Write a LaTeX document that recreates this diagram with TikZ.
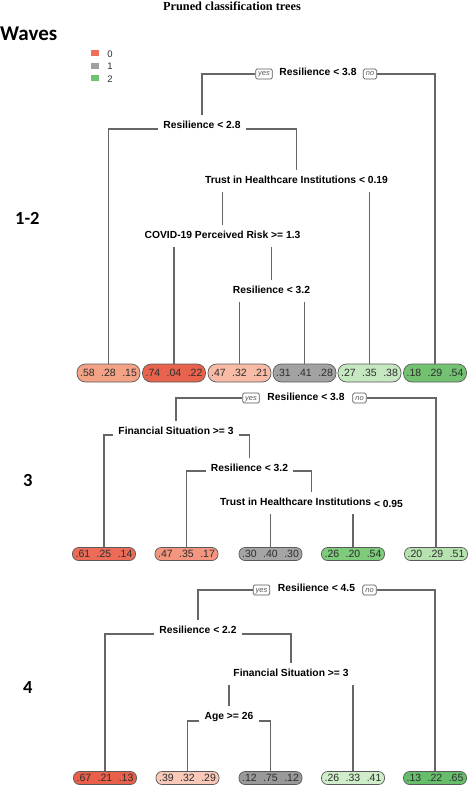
\documentclass[tikz,border=0pt]{standalone}
\usepackage{fontspec}
\setmainfont{Liberation Sans}
\newfontfamily\titlefont{Liberation Serif}
\newfontfamily\wavefont{Carlito}
\definecolor{linegray}{HTML}{666666}
\definecolor{boxgray}{HTML}{5A5A5A}
\definecolor{leafborder}{HTML}{5A5A5A}
\definecolor{leaftext}{HTML}{2E2E2E}
\definecolor{legA}{HTML}{EE6E5A}
\definecolor{legB}{HTML}{A0A0A0}
\definecolor{legC}{HTML}{72C072}
\definecolor{la}{HTML}{F4A286}
\definecolor{lb}{HTML}{E8634D}
\definecolor{lc}{HTML}{F7BBA6}
\definecolor{ld}{HTML}{A2A2A2}
\definecolor{le}{HTML}{C6E8C0}
\definecolor{lf}{HTML}{72C272}
\definecolor{ma}{HTML}{EC6C57}
\definecolor{mb}{HTML}{F49580}
\definecolor{mc}{HTML}{A5A5A5}
\definecolor{md}{HTML}{7DCB7B}
\definecolor{me}{HTML}{B6E2AF}
\definecolor{na}{HTML}{EA5F49}
\definecolor{nb}{HTML}{F9C8B8}
\definecolor{nc}{HTML}{999999}
\definecolor{nd}{HTML}{D0EDCA}
\definecolor{ne}{HTML}{66BE6A}
\newcommand{\lv}[3]{#1\hspace{6.5pt}#2\hspace{6.5pt}#3}
\tikzset{
  branch/.style={draw=linegray, line width=1.1pt},
  split/.style={font=\bfseries\fontsize{10.3}{12}\selectfont, text=black, inner xsep=5pt, inner ysep=6pt, text height=7.5pt, text depth=2pt},
  rootlabel/.style={font=\bfseries\fontsize{10.3}{12}\selectfont, text=black, inner sep=0pt},
  yn/.style={draw=boxgray, line width=0.7pt, rounded corners=1.5pt, font=\itshape\fontsize{7.5}{9}\selectfont, text=boxgray, inner xsep=2.5pt, inner ysep=0pt, text height=5.5pt, text depth=1.5pt, minimum height=10pt, fill=white},
  leafbase/.style={draw=leafborder, line width=0.7pt, minimum width=63pt, inner sep=0pt, font=\fontsize{10.5}{12}\selectfont, text=leaftext},
  leafA/.style={leafbase, minimum height=18pt, rounded corners=8.5pt, fill=#1},
  leafB/.style={leafbase, minimum height=13pt, rounded corners=6pt, fill=#1},
  legsq/.style={minimum width=8pt, minimum height=6pt, inner sep=0pt, fill=#1},
  legtx/.style={font=\fontsize{9.5}{11}\selectfont, text=leaftext, inner sep=0pt},
  side/.style={font=\wavefont\bfseries\fontsize{18.5}{22}\selectfont, inner sep=0pt, anchor=west}
}
\begin{document}
\begin{tikzpicture}[x=1pt,y=-1pt]
\useasboundingbox (0,0) rectangle (474,789);
% title and side labels
\node[font=\titlefont\bfseries\fontsize{12.3}{14}\selectfont, inner sep=0pt] (title) at (232,6) {Pruned classification trees};
\node[side, font=\wavefont\bfseries\fontsize{21}{24}\selectfont] (waves) at (0,34) {Waves};
\node[side] (w12) at (15,218) {1-2};
\node[side] (w3) at (23,480) {3};
\node[side] (w4) at (23,687) {4};
% legend
\node[legsq=legA] (sq0) at (94.5,53) {};
\node[legsq=legB] (sq1) at (94.5,66) {};
\node[legsq=legC] (sq2) at (94.5,78.5) {};
\node[legtx] (lt0) at (110,54) {0};
\node[legtx] (lt1) at (110,66.5) {1};
\node[legtx] (lt2) at (110,79) {2};

% ---------------- tree 1 ----------------
\node[rootlabel] (r1) at (318,72) {Resilience < 3.8};
\node[yn] (yes1) at (264,74) {yes};
\node[yn] (no1) at (370,74) {no};
\node[split] (r28) at (202,126) {Resilience < 2.8};
\node[split] (trust19) at (296.5,181) {Trust in Healthcare Institutions < 0.19};
\node[split] (covid) at (222.5,236) {COVID-19 Perceived Risk >= 1.3};
\node[split] (r32) at (271.5,291) {Resilience < 3.2};
\node[leafA=la] (a1) at (108.5,373) {\lv{.58}{.28}{.15}};
\node[leafA=lb] (a2) at (174,373) {\lv{.74}{.04}{.22}};
\node[leafA=lc] (a3) at (239.5,373) {\lv{.47}{.32}{.21}};
\node[leafA=ld] (a4) at (304.5,373) {\lv{.31}{.41}{.28}};
\node[leafA=le] (a5) at (369.5,373) {\lv{.27}{.35}{.38}};
\node[leafA=lf] (a6) at (435,373) {\lv{.18}{.29}{.54}};
\draw[branch] (yes1.west) -| (r28.north);
\draw[branch] (no1.east) -| (a6.north);
\draw[branch] ([yshift=-3pt]r28.west) -| (a1.north);
\draw[branch] ([yshift=-3pt]r28.east) -| (trust19.north);
\draw[branch] (trust19.south -| covid.north) -- (covid.north);
\draw[branch] (trust19.south -| a5.north) -- (a5.north);
\draw[branch] (covid.south -| a2.north) -- (a2.north);
\draw[branch] (covid.south -| r32.north) -- (r32.north);
\draw[branch] (r32.south -| a3.north) -- (a3.north);
\draw[branch] (r32.south -| a4.north) -- (a4.north);

% ---------------- tree 2 ----------------
\node[rootlabel] (r2) at (306,397) {Resilience < 3.8};
\node[yn] (yes2) at (251,398) {yes};
\node[yn] (no2) at (359.5,398) {no};
\node[split] (fs3) at (176,432) {Financial Situation >= 3};
\node[split] (r32b) at (249.5,469) {Resilience < 3.2};
\node[split] (trust95) at (311.5,503) {Trust in Healthcare Institutions \raisebox{-1.5pt}{< 0.95}};
\node[leafB=ma] (b1) at (104,554) {\lv{.61}{.25}{.14}};
\node[leafB=mb] (b2) at (186.5,554) {\lv{.47}{.35}{.17}};
\node[leafB=mc] (b3) at (270.5,554) {\lv{.30}{.40}{.30}};
\node[leafB=md] (b4) at (353,554) {\lv{.26}{.20}{.54}};
\node[leafB=me] (b5) at (436,554) {\lv{.20}{.29}{.51}};
\draw[branch] (yes2.west) -| (fs3.north);
\draw[branch] (no2.east) -| (b5.north);
\draw[branch] ([yshift=-3pt]fs3.west) -| (b1.north);
\draw[branch] ([yshift=-3pt]fs3.east) -| (r32b.north);
\draw[branch] ([yshift=-2pt]r32b.west) -| (b2.north);
\draw[branch] ([yshift=-2pt]r32b.east) -| (trust95.north);
\draw[branch] (trust95.south -| b3.north) -- (b3.north);
\draw[branch] (trust95.south -| b4.north) -- (b4.north);

% ---------------- tree 3 ----------------
\node[rootlabel] (r3) at (316.5,588) {Resilience < 4.5};
\node[yn] (yes3) at (261.5,590) {yes};
\node[yn] (no3) at (369.5,590) {no};
\node[split] (r22) at (198,631) {Resilience < 2.2};
\node[split] (fsb) at (291,674) {Financial Situation >= 3};
\node[split] (age) at (229,717) {Age >= 26};
\node[leafB=na] (c1) at (105,778) {\lv{.67}{.21}{.13}};
\node[leafB=nb] (c2) at (187.5,778) {\lv{.39}{.32}{.29}};
\node[leafB=nc] (c3) at (270.5,778) {\lv{.12}{.75}{.12}};
\node[leafB=nd] (c4) at (353,778) {\lv{.26}{.33}{.41}};
\node[leafB=ne] (c5) at (435,778) {\lv{.13}{.22}{.65}};
\draw[branch] (yes3.west) -| (r22.north);
\draw[branch] (no3.east) -| (c5.north);
\draw[branch] ([yshift=-3pt]r22.west) -| (c1.north);
\draw[branch] ([yshift=-3pt]r22.east) -| (fsb.north);
\draw[branch] (fsb.south -| age.north) -- (age.north);
\draw[branch] (fsb.south -| c4.north) -- (c4.north);
\draw[branch] ([yshift=-4pt]age.west) -| (c2.north);
\draw[branch] ([yshift=-4pt]age.east) -| (c3.north);
\end{tikzpicture}
\end{document}
